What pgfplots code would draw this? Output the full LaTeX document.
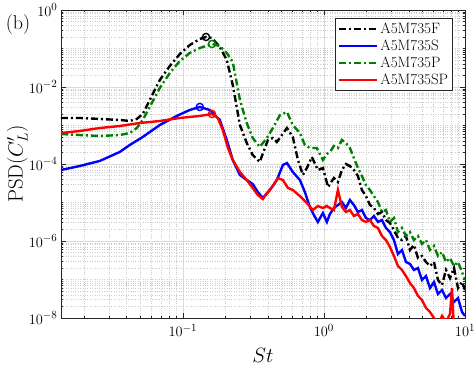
\documentclass[border=0pt]{standalone}
\usepackage{pgfplots}
\pgfplotsset{compat=1.18}
\usetikzlibrary{calc}
\definecolor{mgreen}{rgb}{0,0.5,0}
\newcommand{\lf}{\fontsize{15}{18}\selectfont}
\begin{document}
\begin{tikzpicture}
\begin{loglogaxis}[
  name=ax, scale only axis, width=404pt, height=308pt,
  xmin=0.0137, xmax=10, ymin=1e-8, ymax=1,
  xtick={0.1,1,10},
  ytick={1e-8,1e-6,1e-4,1e-2,1},
  minor xtick={0.02,0.03,0.04,0.05,0.06,0.07,0.08,0.09,0.2,0.3,0.4,0.5,0.6,0.7,0.8,0.9,2,3,4,5,6,7,8,9},
  minor ytick={2e-8,3e-8,4e-8,5e-8,6e-8,7e-8,8e-8,9e-8,1e-7,2e-7,3e-7,4e-7,5e-7,6e-7,7e-7,8e-7,9e-7,
   2e-6,3e-6,4e-6,5e-6,6e-6,7e-6,8e-6,9e-6,1e-5,2e-5,3e-5,4e-5,5e-5,6e-5,7e-5,8e-5,9e-5,
   2e-4,3e-4,4e-4,5e-4,6e-4,7e-4,8e-4,9e-4,1e-3,2e-3,3e-3,4e-3,5e-3,6e-3,7e-3,8e-3,9e-3,
   2e-2,3e-2,4e-2,5e-2,6e-2,7e-2,8e-2,9e-2,1e-1,2e-1,3e-1,4e-1,5e-1,6e-1,7e-1,8e-1,9e-1},
  grid=both,
  major grid style={gray!28, line width=0.5pt},
  minor grid style={gray!40, dotted, line width=0.5pt},
  tick align=inside, xtick pos=both, ytick pos=both,
  major tick length=5pt, minor tick length=2.5pt,
  axis line style={black!85, line width=0.6pt},
  every tick/.style={black!85, line width=0.5pt},
  ticklabel style={font=\lf},
  xticklabel style={yshift=-3pt},
  xlabel={$St$}, ylabel={$\mathrm{PSD}(C_L')$},
  label style={font=\fontsize{20}{24}\selectfont, inner sep=0pt},
  xlabel style={at={(axis description cs:0.5,-0.122)}, anchor=center},
  ylabel style={at={(axis description cs:-0.108,0.5)}, anchor=center},
  legend style={at={(0.970,0.974)}, anchor=north east, font=\lf,
    nodes={font=\lf, inner sep=2.5pt}, draw=black!85, line width=0.5pt, row sep=0pt, inner sep=2pt},
  legend cell align=left,
  legend image code/.code={\draw[#1] (0pt,0pt) -- (38pt,0pt);},
]
\addplot[black, line width=2.4pt, dash pattern=on 7pt off 3pt on 2pt off 3pt] coordinates {
(0.0137,1.57e-3)(0.0186,1.57e-3)(0.0258,1.48e-3)(0.0357,1.39e-3)(0.0421,1.31e-3)(0.0472,1.48e-3)
(0.052,1.99e-3)(0.0583,4.6e-3)(0.0687,1.52e-2)(0.0809,3.51e-2)(0.0953,7.2e-2)(0.112,0.123)
(0.132,0.177)(0.146,0.199)(0.161,0.187)(0.183,0.109)(0.205,0.0503)(0.226,1.13e-2)(0.254,1.03e-3)
(0.284,3.51e-4)(0.313,1.71e-4)(0.351,1.13e-4)(0.401,4.2e-4)(0.435,4.73e-4)(0.464,3.73e-4)
(0.504,5.66e-4)(0.547,8.6e-4)(0.602,5.03e-4)(0.655,1.27e-4)(0.710,5.18e-5)(0.757,7.87e-5)
(0.822,1.52e-4)(0.906,6.98e-5)(0.984,7.87e-5)(1.07,2.53e-5)
(1.177,4.33e-5)(1.257,3.41e-5)(1.342,6.98e-5)(1.432,1.0e-4)(1.529,8.87e-5)(1.632,6.98e-5)
(1.742,4.88e-5)(1.860,2.11e-5)(1.986,1.47e-5)(2.120,8.61e-6)(2.263,7.2e-6)(2.415,5.03e-6)
(2.578,5.66e-6)(2.753,3.51e-6)(2.938,2.93e-6)(3.137,1.93e-6)(3.348,1.20e-6)(3.574,1.06e-6)
(3.815,1.35e-6)(4.073,5.83e-7)(4.347,7.87e-7)(4.642,3.62e-7)(4.955,4.08e-7)(5.290,2.85e-7)
(5.647,2.24e-7)(6.028,2.85e-7)(6.435,9.7e-8)(6.869,7.2e-8)(7.332,1.77e-7)(7.828,1.09e-7)
(8.356,1.99e-7)(8.920,6.01e-8)(9.522,8.61e-8)(10,5.33e-8)
};
\addlegendentry{\lf A5M735F}
\addplot[blue, line width=2.4pt] coordinates {
(0.0137,6.98e-5)(0.0186,8.87e-5)(0.0258,1.20e-4)(0.0357,2.05e-4)(0.0421,3.12e-4)(0.052,5.03e-4)
(0.0687,1.03e-3)(0.0906,1.77e-3)(0.112,2.53e-3)(0.132,3.03e-3)(0.155,2.53e-3)(0.183,1.39e-3)
(0.205,4.2e-4)(0.226,1.27e-4)(0.254,5.18e-5)(0.284,3.84e-5)(0.313,3.02e-5)(0.340,1.87e-5)
(0.369,1.31e-5)(0.414,2.11e-5)(0.464,3.84e-5)(0.512,9.42e-5)(0.547,1.06e-4)(0.602,6.2e-5)
(0.676,3.84e-5)(0.733,1.87e-5)(0.796,7.64e-6)(0.849,4.73e-6)(0.906,3.12e-6)(0.984,5.33e-6)
(1.05,3.12e-6)
(1.103,5.03e-6)(1.177,7.2e-6)(1.257,8.61e-6)(1.342,1.03e-5)(1.432,7.2e-6)(1.529,1.16e-5)
(1.632,8.61e-6)(1.742,5.66e-6)(1.860,6.38e-6)(1.986,3.96e-6)(2.120,3.51e-6)(2.263,4.46e-6)
(2.415,3.12e-6)(2.578,3.51e-6)(2.753,2.18e-6)(2.938,1.71e-6)(3.137,1.06e-6)(3.348,4.6e-7)
(3.574,5.83e-7)(3.815,2.85e-7)(4.073,2.53e-7)(4.347,1.77e-7)(4.642,1.99e-7)(4.955,9.7e-8)
(5.290,1.23e-7)(5.647,6.01e-8)(6.028,8.61e-8)(6.435,4.2e-8)(6.869,5.33e-8)(7.332,3.31e-8)
(7.828,4.2e-8)(8.356,2.6e-8)(8.920,3.31e-8)(9.522,1.43e-8)(10,1.13e-8)
};
\addlegendentry{\lf A5M735S}
\addplot[mgreen, line width=2.4pt, dash pattern=on 7pt off 3pt on 2pt off 3pt] coordinates {
(0.0137,6.01e-4)(0.0186,5.66e-4)(0.0258,5.33e-4)(0.0357,5.66e-4)(0.0421,6.38e-4)(0.0472,8.6e-4)
(0.052,1.39e-3)(0.0583,3.03e-3)(0.0687,9.42e-3)(0.0809,2.31e-2)(0.0953,4.73e-2)(0.112,0.0764)
(0.132,0.103)(0.146,0.116)(0.161,0.131)(0.183,0.116)(0.205,0.0764)(0.226,4.46e-2)(0.254,4.6e-3)
(0.284,1.16e-3)(0.313,4.73e-4)(0.351,2.77e-4)(0.394,4.73e-4)(0.435,8.6e-4)(0.488,1.87e-3)
(0.547,2.24e-3)(0.602,1.03e-3)(0.676,6.38e-4)(0.733,3.12e-4)(0.796,2.6e-4)(0.891,2.6e-4)
(0.984,1.27e-4)(1.05,1.82e-4)
(1.103,2.05e-4)(1.177,2.93e-4)(1.257,2.60e-4)(1.342,4.2e-4)(1.432,3.51e-4)(1.529,2.6e-4)
(1.632,1.43e-4)(1.742,7.87e-5)(1.860,4.88e-5)(1.986,2.85e-5)(2.120,2.11e-5)(2.263,1.47e-5)
(2.415,1.03e-5)(2.578,5.66e-6)(2.753,6.38e-6)(2.938,3.12e-6)(3.137,3.96e-6)(3.348,1.71e-6)
(3.574,2.18e-6)(3.815,1.35e-6)(4.073,1.71e-6)(4.347,1.06e-6)(4.642,1.35e-6)(4.955,8.36e-7)
(5.290,1.06e-6)(5.647,5.83e-7)(6.028,7.42e-7)(6.435,4.08e-7)(6.869,5.18e-7)(7.332,2.85e-7)
(7.828,3.62e-7)(8.356,2.24e-7)(8.920,2.85e-7)(9.522,1.57e-7)(10,9.7e-8)
};
\addlegendentry{\lf A5M735P}
\addplot[red, line width=2.4pt] coordinates {
(0.0137,6.38e-4)(0.0186,7.2e-4)(0.0258,8.6e-4)(0.0357,9.7e-4)(0.0495,1.16e-3)(0.0687,1.31e-3)
(0.0953,1.57e-3)(0.132,1.77e-3)(0.161,1.99e-3)(0.177,1.57e-3)(0.192,7.64e-4)(0.209,2.6e-4)
(0.226,1.27e-4)(0.254,6.2e-5)(0.284,3.84e-5)(0.313,2.38e-5)(0.340,1.57e-5)(0.369,1.23e-5)
(0.401,1.87e-5)(0.435,2.68e-5)(0.472,4.33e-5)(0.512,3.84e-5)(0.556,2.38e-5)(0.602,2.11e-5)
(0.676,1.47e-5)(0.757,9.7e-6)(0.835,6.38e-6)(0.906,8.11e-6)(0.984,7.2e-6)(1.05,8.11e-6)
(1.103,7.2e-6)(1.177,6.38e-6)(1.257,2.11e-5)(1.342,7.64e-6)(1.432,5.66e-6)(1.529,6.38e-6)
(1.632,4.46e-6)(1.742,5.03e-6)(1.860,3.51e-6)(1.986,3.12e-6)(2.120,3.51e-6)(2.263,2.45e-6)
(2.415,2.18e-6)(2.578,1.35e-6)(2.753,1.06e-6)(2.938,6.98e-7)(3.137,4.08e-7)(3.348,2.24e-7)
(3.574,1.77e-7)(3.815,1.23e-7)(4.073,8.1e-8)(4.347,6.01e-8)(4.642,3.73e-8)(4.955,2.93e-8)
(5.290,1.82e-8)(5.647,1.43e-8)(6.028,1.0e-8)(6.435,6.6e-9)(6.869,1.13e-8)(7.332,7.87e-9)
(7.828,1.27e-8)(8.09,6.01e-8)(8.356,4.9e-9)(8.920,3.6e-9)(9.522,3.6e-9)
};
\addlegendentry{\lf A5M735SP}
\addplot[forget plot, only marks, mark=o, mark size=3.6pt, black, line width=1.4pt] coordinates {(0.146,0.199)};
\addplot[forget plot, only marks, mark=o, mark size=3.6pt, blue, line width=1.4pt] coordinates {(0.132,3.03e-3)};
\addplot[forget plot, only marks, mark=o, mark size=3.6pt, mgreen, line width=1.4pt] coordinates {(0.161,0.131)};
\addplot[forget plot, only marks, mark=o, mark size=3.6pt, red, line width=1.4pt] coordinates {(0.161,1.99e-3)};
\end{loglogaxis}
\node[font=\fontsize{20}{24}\selectfont] at ($(ax.north west)+(-43pt,-15pt)$) {(b)};
\pgfresetboundingbox
\path ($(ax.south west)+(-61pt,-48pt)$) rectangle ($(ax.north east)+(9pt,10pt)$);
\end{tikzpicture}
\end{document}
